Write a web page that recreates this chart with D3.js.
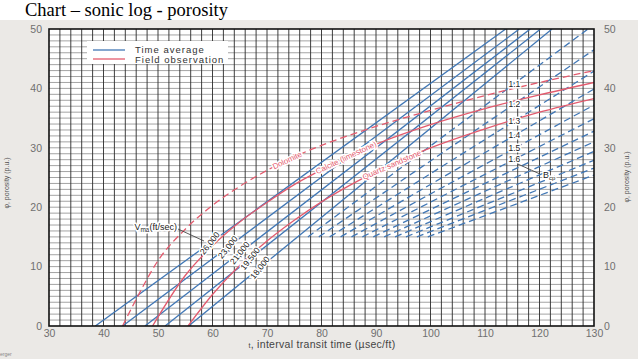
<!DOCTYPE html>
<html><head><meta charset="utf-8">
<script src="https://cdn.jsdelivr.net/npm/d3@7"></script>
<style>
body{margin:0;background:#fff;}
svg{display:block;font-family:"Liberation Sans",Arial,sans-serif;}
</style></head>
<body><svg id="c" width="638" height="359"></svg>
<script>
// ---------- data ----------
const xTickLabels = [30,40,50,60,70,80,90,100,110,120,130];
const yTickLabels = [0,10,20,30,40,50];
// time-average lines (vma ft/sec): start at phi=0, end at phi=50
const vmaLabels = ["26,000","23,000","21,000","19,500","18,000"];
const taStartDt = [38.5,43.5,47.6,51.3,55.6];
const taEndDt   = [113.8,116.3,118.3,120.2,122.3];
const vmaLabelDt = [59.5,62.8,65.0,66.9,68.7];
// compaction correction lines (Bcp), dashed
const bcpLabels = ["1.1","1.2","1.3","1.4","1.5","1.6"];
const bcpStart = [[77.5,15],[79.5,15],[81.5,15],[83.5,15],[85.5,15],[87.5,15],[89.5,15],[91.5,15],[93.5,15],[95.5,15],[97.5,15],[99.5,15]];
const bcpEnd   = [[128.9,50],[130,46.5],[130,42.9],[130,39.9],[130,37.2],[130,34.9],[130,32.8],[130,31.0],[130,29.4],[130,27.9],[130,26.6],[130,25.4]];
const bcpLabelDt = 115.4;
// field observation curves (dt, phi)
const fieldNames = ["Dolomite","Calcite (limestone)","Quartz sandstone"];
const dolomite  = [[43.5,0],[46,4.5],[50,11.0],[55,16.3],[60,20.3],[65,23.5],[70,26.2],[75,28.5],[80,30.4],[90,33.6],[100,36.3],[110,38.8],[120,41.0],[130,43.0]];
const limestone = [[49,0],[55,8.5],[60,13.5],[65,17.5],[70,20.8],[75,23.8],[80,26.3],[85,28.6],[90,30.6],[100,33.9],[110,36.6],[120,38.9],[130,41.0]];
const sandstone = [[55.5,0],[60,5.3],[65,10.2],[70,14.3],[75,17.8],[80,20.9],[85,23.6],[90,26.0],[100,30.0],[110,33.2],[120,36.0],[130,38.3]];
const fieldLabelDt = [73.7,84.5,92.9];
const fieldDashed = [true,false,false];

// ---------- drawing ----------
const svg = d3.select("#c");
const BLUE = "#4177b5", RED = "#e35b6e";
svg.append("rect").attr("x",0).attr("y",20).attr("width",638).attr("height",339).attr("fill","#ebe9e6");
svg.append("text").attr("x",25).attr("y",16).attr("font-family","'Liberation Serif','Times New Roman',serif")
  .attr("font-size",18.5).attr("fill","#000").text("Chart – sonic log - porosity");

const x = d3.scaleLinear().domain([30,130]).range([49,594]);
const y = d3.scaleLinear().domain([0,50]).range([326,29]);

svg.append("rect").attr("x",x(30)).attr("y",y(50)).attr("width",x(130)-x(30)).attr("height",y(0)-y(50)).attr("fill","#fff");

const grid = svg.append("g");
grid.selectAll("line.h").data(d3.range(1,50)).join("line")
  .attr("x1",x(30)).attr("x2",x(130)).attr("y1",d=>y(d)).attr("y2",d=>y(d))
  .attr("stroke","#9a9a9a").attr("stroke-width",0.9);
grid.selectAll("line.v").data(d3.range(32,130,2)).join("line")
  .attr("y1",y(0)).attr("y2",y(50)).attr("x1",d=>x(d)).attr("x2",d=>x(d))
  .attr("stroke","#2a2a2a").attr("stroke-width",0.9);

svg.append("clipPath").attr("id","pc").append("rect")
  .attr("x",x(30)).attr("y",y(50)).attr("width",x(130)-x(30)).attr("height",y(0)-y(50));
const plot = svg.append("g").attr("clip-path","url(#pc)");
const line = d3.line().x(d=>x(d[0])).y(d=>y(d[1]));
const curve = d3.line().x(d=>x(d[0])).y(d=>y(d[1])).curve(d3.curveMonotoneX);

taStartDt.forEach((s,i)=>{
  plot.append("path").attr("d",line([[s,0],[taEndDt[i],50]])).attr("fill","none")
    .attr("stroke",BLUE).attr("stroke-width",1.3);
});
bcpStart.forEach((s,i)=>{
  plot.append("path").attr("d",line([s,bcpEnd[i]])).attr("fill","none")
    .attr("stroke",BLUE).attr("stroke-width",1.3).attr("stroke-dasharray","7,4");
});
[dolomite,limestone,sandstone].forEach((c,i)=>{
  plot.append("path").attr("d",curve(c)).attr("fill","none").attr("stroke",RED)
    .attr("stroke-width",1.3).attr("stroke-dasharray",fieldDashed[i]?"7,4":null);
});

function interp(pts,dt){
  for(let k=1;k<pts.length;k++){ if(dt<=pts[k][0]){const a=pts[k-1],b=pts[k];const t=(dt-a[0])/(b[0]-a[0]);return a[1]+t*(b[1]-a[1]);}}
  return pts[pts.length-1][1];
}
[dolomite,limestone,sandstone].forEach((c,i)=>{
  const dt=fieldLabelDt[i], p=interp(c,dt);
  const ang=Math.atan2(y(interp(c,dt+3))-y(interp(c,dt-3)), x(dt+3)-x(dt-3))*180/Math.PI;
  svg.append("text").attr("transform",`translate(${x(dt)},${y(p)}) rotate(${ang})`)
    .attr("text-anchor","middle").attr("dy","0.35em").attr("font-size",8).attr("fill",RED)
    .attr("stroke","#fff").attr("stroke-width",3).attr("paint-order","stroke").text(fieldNames[i]);
});
vmaLabels.forEach((lab,i)=>{
  const dt=vmaLabelDt[i];
  const p=50*(dt-taStartDt[i])/(taEndDt[i]-taStartDt[i]);
  svg.append("text").attr("transform",`translate(${x(dt)},${y(p)}) rotate(-52)`)
    .attr("text-anchor","middle").attr("dy","0.35em").attr("font-size",8.5).attr("fill","#222")
    .attr("stroke","#fff").attr("stroke-width",3).attr("paint-order","stroke").text(lab);
});
const vt = svg.append("text").attr("x",177).attr("y",230).attr("text-anchor","end").attr("font-size",9).attr("fill","#222")
  .attr("stroke","#fff").attr("stroke-width",3).attr("paint-order","stroke");
vt.append("tspan").text("V");
vt.append("tspan").attr("font-size",6.5).attr("dy",2).text("ma");
vt.append("tspan").attr("dy",-2).text("(ft/sec)");
svg.append("line").attr("x1",178).attr("y1",229).attr("x2",204).attr("y2",241).attr("stroke","#333").attr("stroke-width",0.8);

bcpLabels.forEach((lab,i)=>{
  const s=bcpStart[i], e=bcpEnd[i];
  const p=s[1]+(bcpLabelDt-s[0])*(e[1]-s[1])/(e[0]-s[0]);
  svg.append("text").attr("x",x(bcpLabelDt)).attr("y",y(p)).attr("dy","0.35em").attr("text-anchor","middle")
    .attr("font-size",8.5).attr("fill","#222").attr("stroke","#fff").attr("stroke-width",3).attr("paint-order","stroke").text(lab);
});
svg.append("line").attr("x1",x(116)).attr("y1",164).attr("x2",540).attr("y2",174).attr("stroke","#333").attr("stroke-width",0.8);
const bt = svg.append("text").attr("x",543).attr("y",178).attr("font-size",9).attr("fill","#222")
  .attr("stroke","#fff").attr("stroke-width",3).attr("paint-order","stroke");
bt.append("tspan").text("B");
bt.append("tspan").attr("font-size",6).attr("dy",2).text("cp");

// legend
svg.append("rect").attr("x",87).attr("y",41).attr("width",141).attr("height",23).attr("fill","#fff");
svg.append("line").attr("x1",93).attr("x2",125).attr("y1",50).attr("y2",50).attr("stroke",BLUE).attr("stroke-width",1.3);
svg.append("line").attr("x1",93).attr("x2",125).attr("y1",59).attr("y2",59).attr("stroke",RED).attr("stroke-width",1.3);
svg.append("text").attr("x",135).attr("y",53).attr("font-size",9.5).attr("letter-spacing",1).attr("fill","#333").text("Time average");
svg.append("text").attr("x",135).attr("y",62.5).attr("font-size",9.5).attr("letter-spacing",1).attr("fill","#333").text("Field observation");

svg.append("rect").attr("x",x(30)).attr("y",y(50)).attr("width",x(130)-x(30)).attr("height",y(0)-y(50))
  .attr("fill","none").attr("stroke","#111").attr("stroke-width",1.6);

const ax = svg.append("g").attr("transform",`translate(0,${y(0)})`)
  .call(d3.axisBottom(x).tickValues(xTickLabels).tickSize(0).tickPadding(4));
const ayl = svg.append("g").attr("transform",`translate(${x(30)},0)`)
  .call(d3.axisLeft(y).tickValues(yTickLabels).tickSize(0).tickPadding(7));
const ayr = svg.append("g").attr("transform",`translate(${x(130)},0)`)
  .call(d3.axisRight(y).tickValues(yTickLabels).tickSize(0).tickPadding(10));
[ax,ayl,ayr].forEach(g=>{g.select(".domain").remove();
  g.selectAll("text").attr("font-size",10.5).attr("fill","#707070").attr("font-family","'Liberation Sans',Arial,sans-serif");});

svg.append("text").attr("transform","translate(9,183) rotate(-90)").attr("text-anchor","middle")
  .attr("font-size",7).attr("fill","#555").text("φ, porosity (p.u.)");
svg.append("text").attr("transform","translate(629,177) rotate(-90)").attr("text-anchor","middle")
  .attr("font-size",7).attr("fill","#555").text("φ, porosity (p.u.)");
const xt = svg.append("text").attr("x",322).attr("y",348).attr("text-anchor","middle").attr("font-size",10.5)
  .attr("letter-spacing",0.3).attr("fill","#444");
xt.append("tspan").attr("font-size",7).text("t");
xt.append("tspan").text(", interval transit time (µsec/ft)");
svg.append("text").attr("x",0).attr("y",356).attr("font-size",5).attr("fill","#888").text("erger");
</script></body></html>
